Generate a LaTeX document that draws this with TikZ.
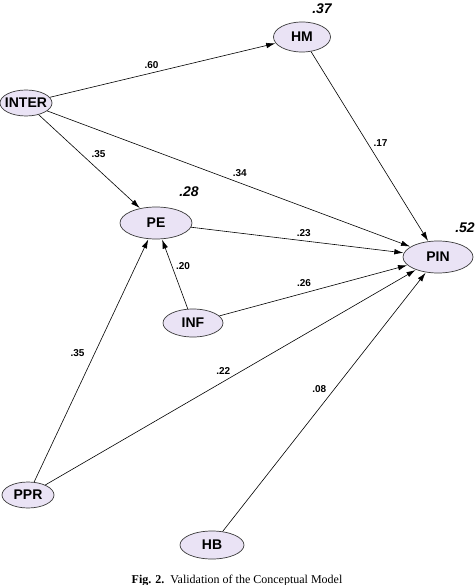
\documentclass[tikz,border=0pt]{standalone}
\usepackage{fontspec}
\setmainfont{Liberation Sans}
\newfontfamily\capfont{Liberation Serif}
\usetikzlibrary{shapes.geometric,arrows.meta}
\definecolor{varfill}{HTML}{EAE3F5}
\definecolor{varline}{HTML}{3A3A3A}
\newcommand{\vn}[1]{\makebox[0pt]{#1}}
\tikzset{
  var/.style={ellipse, draw=varline, line width=0.7pt, fill=varfill, inner sep=0pt,
    text height=1.6ex, text depth=0pt, font=\fontsize{14}{15}\selectfont\bfseries},
  path/.style={-{Latex[length=9pt,width=5.5pt]}, line width=0.6pt, shorten >=0.5pt},
  coef/.style={font=\fontsize{10}{11}\selectfont\bfseries, inner sep=1pt},
  rsq/.style={font=\fontsize{14}{15}\selectfont\bfseries\itshape, inner sep=0pt}
}
\begin{document}
\begin{tikzpicture}[x=1pt, y=-1pt]
  \useasboundingbox (0,0) rectangle (474,585);
  % latente Variablen
  \node[var, minimum width=52pt, minimum height=26pt] (inter) at (26,103) {\vn{INTER}};
  \node[var, minimum width=57pt, minimum height=30pt] (hm) at (302,37) {\vn{HM}};
  \node[var, minimum width=72pt, minimum height=32pt] (pe) at (156,223) {\vn{PE}};
  \node[var, minimum width=70pt, minimum height=32pt] (pin) at (438,257) {\vn{PIN}};
  \node[var, minimum width=60pt, minimum height=28pt] (inf) at (193,323) {\vn{INF}};
  \node[var, minimum width=52pt, minimum height=26pt] (ppr) at (28,495) {\vn{PPR}};
  \node[var, minimum width=64pt, minimum height=28pt] (hb) at (212,545) {\vn{HB}};
  % R-Quadrat
  \node[rsq] (r2hm) at (322,9) {.37};
  \node[rsq] (r2pe) at (189,192) {.28};
  \node[rsq] (r2pin) at (465,228) {.52};
  % Pfade
  \draw[path] (inter) -- node[coef, pos=.45, above=3pt] {.60} (hm);
  \draw[path] (inter) -- node[coef, pos=.42, right=9pt] {.35} (pe);
  \draw[path] (inter) -- node[coef, pos=.53, above=5pt] {.34} (pin);
  \draw[path] (hm) -- node[coef, pos=.48, right=5pt] {.17} (pin);
  \draw[path] (pe) -- node[coef, pos=.53, above=3pt] {.23} (pin);
  \draw[path] (inf) -- node[coef, pos=.62, right=3pt] {.20} (pe);
  \draw[path] (inf) -- node[coef, pos=.45, above=5pt] {.26} (pin);
  \draw[path] (ppr) -- node[coef, pos=.53, left=9pt] {.35} (pe);
  \draw[path] (ppr) -- node[coef, pos=.48, above=6pt] {.22} (pin);
  \draw[path] (hb) -- node[coef, pos=.55, left=7pt] {.08} (pin);
  % Bildunterschrift
  \node[font=\capfont\fontsize{12}{13}\selectfont, anchor=base] (cap) at (237,583)
    {\textbf{Fig. 2.}\ \ Validation of the Conceptual Model};
\end{tikzpicture}
\end{document}
